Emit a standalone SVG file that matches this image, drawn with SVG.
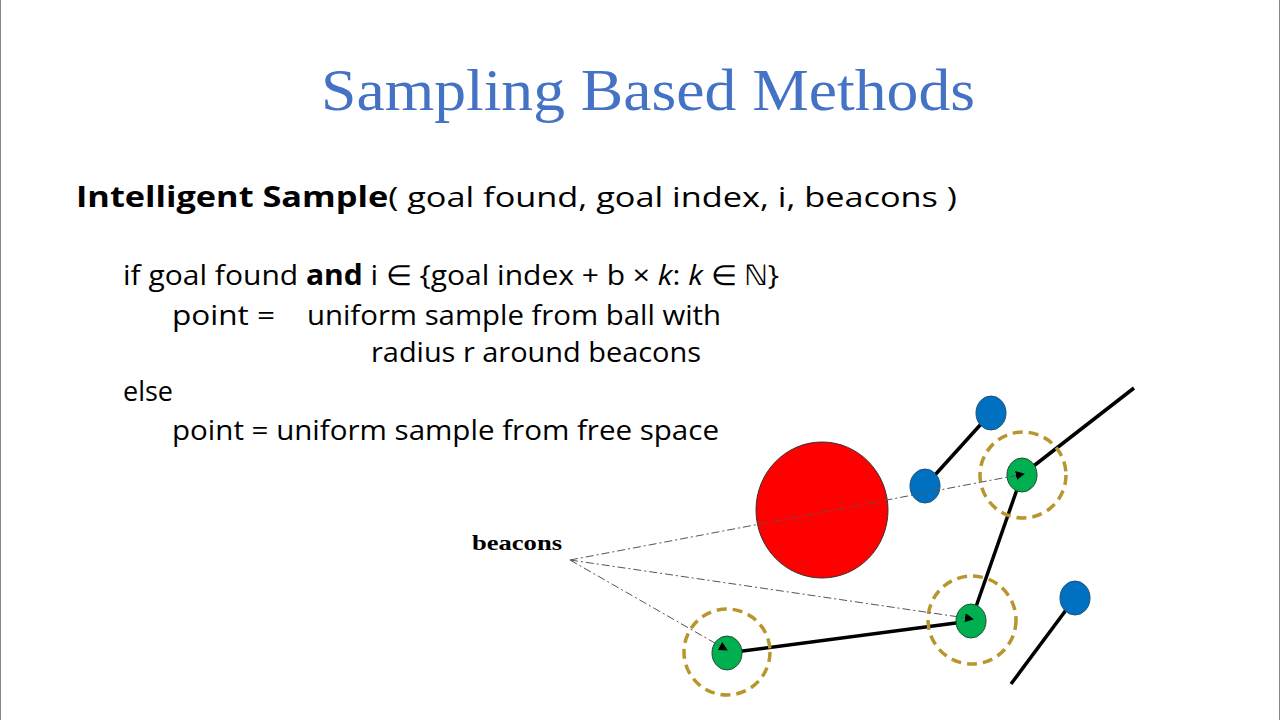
<svg xmlns="http://www.w3.org/2000/svg" width="1280" height="720" viewBox="0 0 1280 720">
<style>
.t{font-family:"Open Sans","Liberation Sans",sans-serif;fill:#000;font-size:28px}
.blue{fill:#0070C0;stroke:#1F4E79;stroke-width:1}
.green{fill:#00B050;stroke:#1E4D2B;stroke-width:1}
.ring{fill:none;stroke:#B8962E;stroke-width:3.5;stroke-dasharray:10 6}
.edge{stroke:#000;stroke-width:3.5}
.ptr{stroke:#555;stroke-width:1;stroke-dasharray:8 3 2 3;marker-end:url(#ah)}
</style>
<defs><marker id="ah" viewBox="0 0 10 10" refX="9" refY="5" markerWidth="9" markerHeight="9" markerUnits="userSpaceOnUse" orient="auto"><path d="M0,0L10,5L0,10z" fill="#000"/></marker></defs>
<rect width="1280" height="720" fill="#fff"/>
<line x1="0.5" y1="0" x2="0.5" y2="720" stroke="#888"/>
<line x1="1279.5" y1="0" x2="1279.5" y2="720" stroke="#888"/>
<text x="321" y="110" font-family="Liberation Serif,serif" font-size="60" fill="#4472C4" textLength="654" lengthAdjust="spacingAndGlyphs">Sampling Based Methods</text>
<text class="t" x="76" y="207" font-size="32" textLength="881" lengthAdjust="spacingAndGlyphs"><tspan font-weight="bold">Intelligent Sample</tspan>( goal found, goal index, i, beacons )</text>
<text class="t" x="123" y="285" textLength="656" lengthAdjust="spacingAndGlyphs">if goal found <tspan font-weight="bold">and</tspan> i ∈ {goal index + b × <tspan font-style="italic">k</tspan>: <tspan font-style="italic">k</tspan> ∈ ℕ}</text>
<text class="t" x="172" y="325" textLength="103" lengthAdjust="spacingAndGlyphs">point =</text>
<text class="t" x="307" y="325" textLength="414" lengthAdjust="spacingAndGlyphs">uniform sample from ball with</text>
<text class="t" x="371" y="362" textLength="330" lengthAdjust="spacingAndGlyphs">radius r around beacons</text>
<text class="t" x="123" y="401" textLength="50" lengthAdjust="spacingAndGlyphs">else</text>
<text class="t" x="172" y="440" textLength="547" lengthAdjust="spacingAndGlyphs">point = uniform sample from free space</text>
<g id="obstacle"><ellipse cx="822" cy="510" rx="66" ry="68" fill="#FF0000" stroke="#333" stroke-width="1"/></g>
<g id="edges">
<line class="edge" x1="925" y1="486" x2="991" y2="413"/>
<line class="edge" x1="1022" y1="475" x2="1134" y2="388"/>
<line class="edge" x1="1022" y1="475" x2="971" y2="621"/>
<line class="edge" x1="971" y1="621" x2="727" y2="653"/>
<line class="edge" x1="1075" y1="598" x2="1011" y2="684"/>
</g>
<g id="rings">
<circle class="ring" cx="1023" cy="475" r="43"/>
<circle class="ring" cx="972" cy="620" r="44"/>
<circle class="ring" cx="727" cy="652" r="43"/>
</g>
<g id="n-blue1"><ellipse class="blue" cx="991" cy="413" rx="15" ry="17"/></g>
<g id="n-blue2"><ellipse class="blue" cx="925" cy="486" rx="15" ry="17"/></g>
<g id="n-blue3"><ellipse class="blue" cx="1075" cy="598" rx="15" ry="17"/></g>
<g id="n-green1"><ellipse class="green" cx="1022" cy="475" rx="15" ry="17"/></g>
<g id="n-green2"><ellipse class="green" cx="971" cy="621" rx="15" ry="17"/></g>
<g id="n-green3"><ellipse class="green" cx="727" cy="653" rx="15" ry="17"/></g>
<g id="connectors">
<line class="ptr" x1="570" y1="560" x2="1024" y2="474"/>
<line class="ptr" x1="570" y1="560" x2="973" y2="619"/>
<line class="ptr" x1="570" y1="560" x2="727" y2="650"/>
</g>
<g id="beacons-label"><text x="472" y="550" font-family="Liberation Serif,serif" font-weight="bold" font-size="22" textLength="90" lengthAdjust="spacingAndGlyphs">beacons</text></g>
</svg>
